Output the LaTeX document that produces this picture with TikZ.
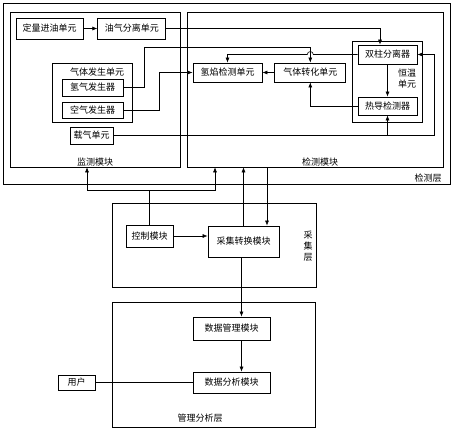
\documentclass[tikz,border=0pt]{standalone}
\usepackage{fontspec}
\newfontfamily\cjk{Noto Sans CJK SC}
\usepackage{xcolor}
\usepackage{tikz}
\usetikzlibrary{arrows, arrows.meta, positioning}

\begin{document}
\begin{tikzpicture}[
    x=1pt, y=-1pt,
    font=\cjk\fontsize{9}{11}\selectfont,
    box/.style={rectangle, draw, line width=0.8pt, inner sep=1pt, align=center},
    frame/.style={rectangle, draw, line width=0.6pt, inner sep=0pt},
    arrow/.style={-{Latex[length=5pt, width=4pt]}, line width=0.6pt},
    conn/.style={line width=0.6pt}
]
\useasboundingbox (0,0) rectangle (474,429);

\node[frame, minimum width=447pt, minimum height=181pt] (jiancec) at (226.5,93.5) {};
\node[frame, minimum width=170pt, minimum height=155pt] (jiance) at (95,89.5) {};
\node[frame, minimum width=256pt, minimum height=155pt] (jiancemk) at (315,89.5) {};
\node[frame, minimum width=80pt, minimum height=59pt] (qiti) at (92,92.5) {};
\node[frame, minimum width=70pt, minimum height=81pt] (hengwen) at (387,81.5) {};
\node[frame, minimum width=204pt, minimum height=84pt] (caijic) at (214,245) {};
\node[frame, minimum width=203pt, minimum height=125pt] (guanlic) at (213.5,364.5) {};

\node[box, minimum width=67pt, minimum height=21pt] (dinglian) at (49.5,28.5) {定量进油单元};
\node[box, minimum width=68pt, minimum height=21pt, right=14pt of dinglian] (youqi) {油气分离单元};
\node[box, minimum width=61pt, minimum height=17pt] (qingqi) at (92.5,87.5) {氢气发生器};
\node[box, minimum width=61pt, minimum height=16pt] (kongqi) at (92.5,110) {空气发生器};
\node[box, minimum width=43pt, minimum height=17pt] (zaiqi) at (91.5,135.5) {载气单元};
\node[box, minimum width=69pt, minimum height=19pt] (qingyan) at (227.5,72.5) {氢焰检测单元};
\node[box, minimum width=71pt, minimum height=19pt, right=12pt of qingyan] (zhuanhua) {气体转化单元};
\node[box, minimum width=59pt, minimum height=19pt] (shuangzhu) at (387.5,54.5) {双柱分离器};
\node[box, minimum width=59pt, minimum height=18pt] (redao) at (387.5,106) {热导检测器};
\node[box, minimum width=47pt, minimum height=22pt] (kongzhi) at (149.5,236) {控制模块};
\node[box, minimum width=71pt, minimum height=31pt] (caiji) at (243.5,241.5) {采集转换模块};
\node[box, minimum width=77pt, minimum height=23pt] (shuju) at (231.5,328.5) {数据管理模块};
\node[box, minimum width=77pt, minimum height=21pt] (fenxi) at (231.5,382.5) {数据分析模块};
\node[box, minimum width=37pt, minimum height=15pt] (yonghu) at (76.5,382.5) {用户};

\node (qitilabel) at (97,72) {气体发生单元};
\node[align=center] (hengwenlabel) at (407,79) {恒温\\单元};
\node (jiancelabel) at (95,162) {监测模块};
\node (jiancemklabel) at (320,162) {检测模块};
\node (jianceclabel) at (428,178) {检测层};
\node[align=center] (caijiclabel) at (308,246) {采\\集\\层};
\node (guanliclabel) at (200,418) {管理分析层};

\draw[arrow] (dinglian) -- (youqi);
\draw[arrow] (youqi.east) -| ([xshift=-7.5pt]shuangzhu.north);
\draw[arrow] (qingqi.east) -- ++(20.5,0) |- ([yshift=15pt]zhuanhua.north) -- (zhuanhua.north);
\draw[arrow] (shuangzhu.west) -- ([xshift=3pt]zhuanhua.north |- shuangzhu.west) arc (0:180:3pt) -| (qingyan.north);
\draw[arrow] (kongqi.east) -- ++(35.5,0) |- (qingyan.west);
\draw[arrow] (zhuanhua) -- (qingyan);
\draw[arrow] (shuangzhu) -- (redao);
\draw[arrow] (redao.west) -| (zhuanhua.south);
\draw[arrow] (zaiqi.east) -| (redao.south);
\draw[arrow] (redao.south |- zaiqi.east) -| ([xshift=17pt]shuangzhu.east) -- (shuangzhu.east);

\draw[conn] (kongzhi.north) -- ++(0,-34) coordinate (fen);
\draw[arrow] (fen) -| ([xshift=-8pt]jiance.south);
\draw[arrow] (fen) -| ([xshift=-100pt]jiancemk.south);
\draw[arrow] (caiji.north) -- (caiji.north |- jiancemk.south);
\draw[arrow] ([xshift=23.5pt]caiji.north |- jiancemk.south) -- ([xshift=23.5pt]caiji.north);
\draw[arrow] (kongzhi.east) -- (kongzhi.east -| caiji.west);
\draw[arrow] ([xshift=-2pt]caiji.south) -- ([xshift=-2pt]caiji.south |- shuju.north);
\draw[arrow] ([xshift=-2pt]caiji.south |- shuju.south) -- ([xshift=-2pt]caiji.south |- fenxi.north);
\draw[conn] (yonghu) -- (fenxi);

\end{tikzpicture}
\end{document}
